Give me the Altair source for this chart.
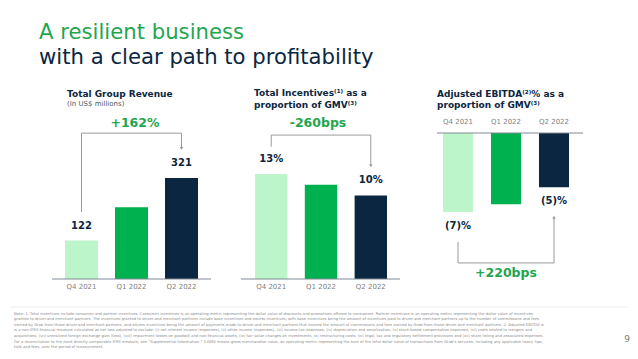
import altair as alt
import pandas as pd

# ---------------- data ----------------
quarters = ["Q4 2021", "Q1 2022", "Q2 2022"]
bar_colors = ["#BDF5CA", "#00B14F", "#0B2640"]

revenue = [122, 228, 321]
revenue_labels = ["122", "", "321"]

incentives = [12.7, 11.4, 10.1]
incentive_labels = ["13%", "", "10%"]

ebitda = [-7.0, -6.3, -4.8]
ebitda_labels = ["(7)%", "", "(5)%"]

# bracket paths (in each panel's data units)
bracket_q = ["Q4 2021", "Q4 2021", "Q2 2022", "Q2 2022"]
bracket1_v = [213, 463, 463, 414]
bracket2_v = [16.0, 17.4, 17.4, 13.7]
bracket3_v = [-9.65, -11.5, -11.5, -7.45]

changes = ["+162%", "-260bps", "+220bps"]

footnote_lines = [
    "Note: 1. Total incentives include consumer and partner incentives. Consumer incentives is an operating metric representing the dollar value of discounts and promotions offered to consumers. Partner incentives is an operating metric representing the dollar value of incentives",
    "granted to driver-and merchant-partners. The incentives granted to driver-and merchant-partners include base incentives and excess incentives, with base incentives being the amount of incentives paid to driver-and merchant-partners up to the number of commissions and fees",
    "earned by Grab from those driver-and merchant-partners, and excess incentives being the amount of payments made to driver-and merchant-partners that exceed the amount of commissions and fees earned by Grab from those driver-and merchant-partners. 2. Adjusted EBITDA is",
    "is a non-IFRS financial measure calculated as net loss adjusted to exclude: (i) net interest income (expenses), (ii) other income (expenses), (iii) income tax expenses, (iv) depreciation and amortization, (v) stock-based compensation expenses, (vi) costs related to mergers and",
    "acquisitions, (vii) unrealized foreign exchange gain (loss), (viii) impairment losses on goodwill and non-financial assets, (ix) fair value changes on investments, (x) restructuring costs, (xi) legal, tax and regulatory settlement provisions and (xii) share listing and associated expenses.",
    "For a reconciliation to the most directly comparable IFRS measure, see \u201cSupplemental Information.\u201d 3.GMV means gross merchandise value, an operating metric representing the sum of the total dollar value of transactions from Grab\u2019s services, including any applicable taxes, tips,",
    "tolls and fees, over the period of measurement.",
]

NAVY = "#0B2640"
GREEN = "#1FA64F"
GREY_LINE = "#9A9A9A"
FONT = "DejaVu Sans"

one = pd.DataFrame({"a": [0]})


def txt(s, x, y, size, color, weight="normal", align="left", baseline="middle"):
    return alt.Chart(one).mark_text(
        text=s, fontSize=size, color=color, fontWeight=weight,
        align=align, baseline=baseline, font=FONT
    ).encode(x=alt.value(x), y=alt.value(y))


def panel(values, labels, bracket_v, xr, pad, ydom, yr, label_dy, qlabel_y,
          axis_x, axis_y, arrow_shape):
    df = pd.DataFrame({"quarter": quarters, "value": values, "label": labels})
    bdf = pd.DataFrame({"quarter": bracket_q, "value": bracket_v,
                        "i": list(range(len(bracket_q)))})
    adf = bdf.tail(1)
    xs = alt.X("quarter:N", sort=quarters,
               scale=alt.Scale(domain=quarters, range=xr, paddingInner=pad, paddingOuter=0),
               axis=None)
    ys = alt.Y("value:Q",
               scale=alt.Scale(domain=ydom, range=yr, nice=False, zero=False),
               axis=None)
    bars = alt.Chart(df).mark_bar().encode(
        x=xs, y=ys, y2=alt.datum(0),
        color=alt.Color("quarter:N", scale=alt.Scale(domain=quarters, range=bar_colors), legend=None),
    )
    vlabels = alt.Chart(df).mark_text(
        dy=label_dy, fontWeight="bold", fontSize=10, color=NAVY, font=FONT, baseline="middle"
    ).encode(x=xs, y=ys, text="label:N")
    qlabels = alt.Chart(df).mark_text(
        fontSize=7, color="#808080", font=FONT, baseline="middle"
    ).encode(x=xs, y=alt.value(qlabel_y), text="quarter:N")
    axis_line = alt.Chart(one).mark_rule(color="#7F8A94", strokeWidth=1).encode(
        x=alt.value(axis_x[0]), x2=alt.value(axis_x[1]), y=alt.value(axis_y)
    )
    bracket = alt.Chart(bdf).mark_line(color=GREY_LINE, strokeWidth=1).encode(
        x=xs, y=ys, order="i:Q"
    )
    arrow = alt.Chart(adf).mark_point(
        shape=arrow_shape, filled=True, size=12, color=GREY_LINE, opacity=1
    ).encode(x=xs, y=ys)
    return alt.layer(bars, axis_line, vlabels, qlabels, bracket, arrow)


p1 = panel(revenue, revenue_labels, bracket1_v, [57, 190], 0.34, [0, 500], [271, 113.5],
           -15, 279, [44, 203], 271, "triangle-down")
p2 = panel(incentives, incentive_labels, bracket2_v, [247, 379], 0.35, [0, 18], [271, 122.1],
           -15, 279, [233, 392], 271, "triangle-down")
p3 = panel(ebitda, ebitda_labels, bracket3_v, [435, 561], 0.375, [-12, 0], [260.6, 125],
           14, 114, [429, 575], 125, "triangle-up")

texts = [
    txt("A resilient business", 31, 31, 21.2, GREEN, baseline="alphabetic"),
    txt("with a clear path to profitability", 31, 56, 21.2, NAVY, baseline="alphabetic"),
    txt("Total Group Revenue", 59, 86, 9, NAVY, weight="bold"),
    txt("(In US$ millions)", 59, 96, 7, "#4A5A6A"),
    txt("Total Incentives\u207d\u00b9\u207e as a", 246, 85, 9, NAVY, weight="bold"),
    txt("proportion of GMV\u207d\u00b3\u207e", 246, 97, 9, NAVY, weight="bold"),
    txt("Adjusted EBITDA\u207d\u00b2\u207e% as a", 429, 86, 9, NAVY, weight="bold"),
    txt("proportion of GMV\u207d\u00b3\u207e", 429, 97, 9, NAVY, weight="bold"),
    txt(changes[0], 127, 115, 12.5, GREEN, weight="bold", align="center"),
    txt(changes[1], 310, 115, 12.5, GREEN, weight="bold", align="center"),
    txt(changes[2], 498, 265, 12.5, GREEN, weight="bold", align="center"),
    alt.Chart(one).mark_rule(color="#EEEEEE", strokeWidth=1).encode(
        x=alt.value(2), x2=alt.value(620), y=alt.value(299)
    ),
    alt.Chart(one).mark_text(
        text=footnote_lines, fontSize=3.75, lineHeight=5.65, color="#8A8A8A",
        align="left", baseline="top", font=FONT
    ).encode(x=alt.value(6), y=alt.value(303.5)),
    txt("9", 619, 331, 9, "#7A7A7A", align="center"),
]

chart = alt.layer(p1, p2, p3, *texts).resolve_scale(
    x="independent", y="independent"
).properties(
    width=622, height=343, padding=0, autosize="none", background="white"
).configure_view(stroke=None)

chart.save("out.html", embed_options={"renderer": "svg", "actions": False})
